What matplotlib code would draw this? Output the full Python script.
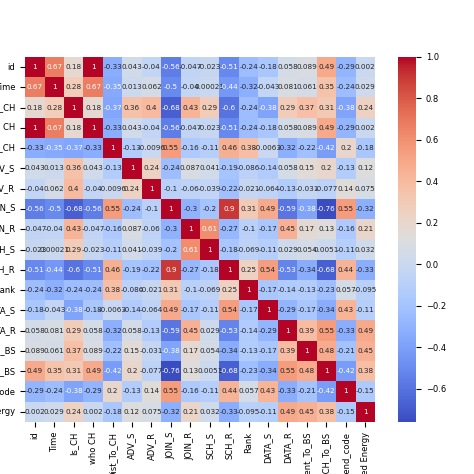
import matplotlib
matplotlib.use("Agg")
import matplotlib.pyplot as plt
import numpy as np
import seaborn as sns

labels = ["id", "Time", "Is_CH", "who CH", "Dist_To_CH", "ADV_S", "ADV_R", "JOIN_S",
          "JOIN_R", "SCH_S", "SCH_R", "Rank", "DATA_S", "DATA_R", "Data_Sent_To_BS",
          "dist_CH_To_BS", "send_code", "Consumed Energy"]

# upper triangle rows (from the diagonal onwards)
upper = [
    [1, 0.67, 0.18, 1, -0.33, 0.043, -0.04, -0.56, -0.047, -0.023, -0.51, -0.24, -0.18, 0.058, 0.089, 0.49, -0.29, 0.002],
    [1, 0.28, 0.67, -0.35, 0.013, 0.062, -0.5, -0.04, 0.00021, -0.44, -0.32, -0.043, 0.081, 0.061, 0.35, -0.24, 0.029],
    [1, 0.18, -0.37, 0.36, 0.4, -0.68, 0.43, 0.29, -0.6, -0.24, -0.38, 0.29, 0.37, 0.31, -0.38, 0.24],
    [1, -0.33, 0.043, -0.04, -0.56, -0.047, -0.023, -0.51, -0.24, -0.18, 0.058, 0.089, 0.49, -0.29, 0.002],
    [1, -0.13, -0.0096, 0.55, -0.16, -0.11, 0.46, 0.38, -0.0063, -0.32, -0.22, -0.42, 0.2, -0.18],
    [1, 0.24, -0.24, 0.087, 0.041, -0.19, -0.086, -0.14, 0.058, 0.15, 0.2, -0.13, 0.12],
    [1, -0.1, -0.06, -0.039, -0.22, -0.021, -0.064, -0.13, -0.031, -0.077, 0.14, 0.075],
    [1, -0.3, -0.2, 0.9, 0.31, 0.49, -0.59, -0.38, -0.76, 0.55, -0.32],
    [1, 0.61, -0.27, -0.1, -0.17, 0.45, 0.17, 0.13, -0.16, 0.21],
    [1, -0.18, -0.069, -0.11, 0.029, 0.054, 0.0051, -0.11, 0.032],
    [1, 0.25, 0.54, -0.53, -0.34, -0.68, 0.44, -0.33],
    [1, -0.17, -0.14, -0.13, -0.23, 0.057, -0.095],
    [1, -0.29, -0.17, -0.34, 0.43, -0.11],
    [1, 0.39, 0.55, -0.33, 0.49],
    [1, 0.48, -0.21, 0.45],
    [1, -0.42, 0.38],
    [1, -0.15],
    [1],
]

n = len(labels)
corr = np.zeros((n, n))
for i, row in enumerate(upper):
    for k, v in enumerate(row):
        corr[i, i + k] = v
        corr[i + k, i] = v

fig = plt.figure(figsize=(4.74, 4.74), dpi=100)
ax = fig.add_axes([0.053, 0.11, 0.738, 0.77])
cax = fig.add_axes([0.84, 0.11, 0.038, 0.77])
sns.heatmap(corr, annot=True, cmap="coolwarm", ax=ax, cbar_ax=cax,
            xticklabels=labels, yticklabels=labels,
            annot_kws={"size": 5.2})
ax.tick_params(labelsize=6)
plt.setp(ax.get_xticklabels(), rotation=90)
cax.tick_params(labelsize=6)
fig.savefig("out.png", dpi=100)
